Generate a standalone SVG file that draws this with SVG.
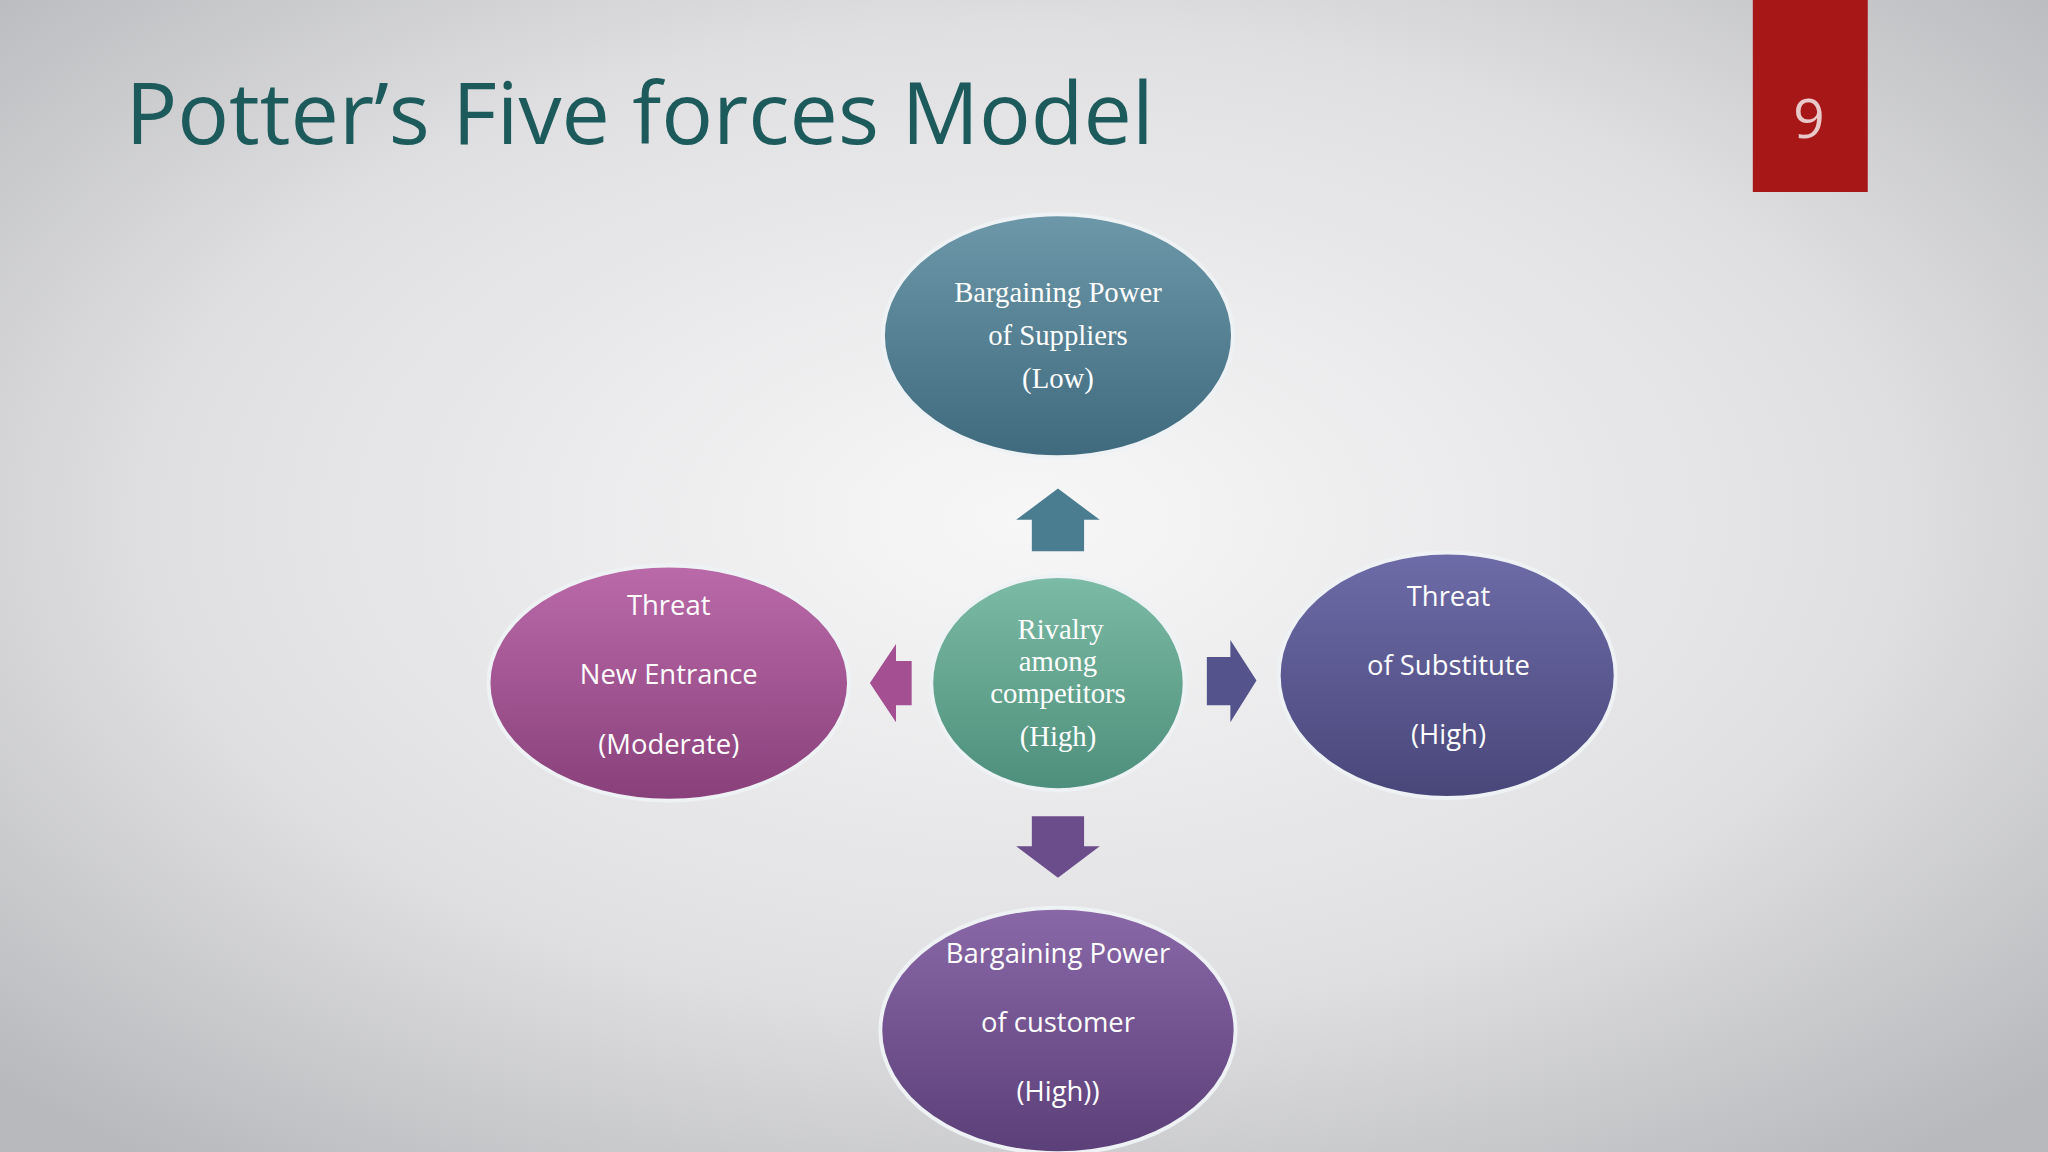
<svg xmlns="http://www.w3.org/2000/svg" width="2048" height="1152" viewBox="0 0 2048 1152">
<defs>
<radialGradient id="bg" cx="0.5" cy="0.45" r="0.7"><stop offset="0" stop-color="#f7f7f8"/><stop offset="0.6" stop-color="#e0e0e2"/><stop offset="1" stop-color="#b8b9bc"/></radialGradient>
<linearGradient id="gTop" x1="0" y1="0" x2="0" y2="1"><stop offset="0" stop-color="#6c98aa"/><stop offset="1" stop-color="#3f6a7d"/></linearGradient>
<linearGradient id="gCen" x1="0" y1="0" x2="0" y2="1"><stop offset="0" stop-color="#7cbba5"/><stop offset="1" stop-color="#4d8f7b"/></linearGradient>
<linearGradient id="gLeft" x1="0" y1="0" x2="0" y2="1"><stop offset="0" stop-color="#bb6aa9"/><stop offset="1" stop-color="#88407a"/></linearGradient>
<linearGradient id="gRight" x1="0" y1="0" x2="0" y2="1"><stop offset="0" stop-color="#6e6ca8"/><stop offset="1" stop-color="#484679"/></linearGradient>
<linearGradient id="gBot" x1="0" y1="0" x2="0" y2="1"><stop offset="0" stop-color="#8a68a8"/><stop offset="1" stop-color="#5b3f78"/></linearGradient>
<style>
.e{stroke:#eef2f4;stroke-width:3}
.serif{font-family:"Liberation Serif",serif;font-size:22px;fill:#fff;text-anchor:middle}
.sans{font-family:"Open Sans","Noto Sans",sans-serif;font-size:21px;fill:#fff;text-anchor:middle}
</style>
</defs>
<rect width="2048" height="1152" fill="url(#bg)"/>
<g transform="scale(1.30612)">
<text x="96" y="110" font-family="Open Sans, Noto Sans, sans-serif" font-size="66" fill="#1d5a5c">Potter’s Five forces Model</text>
<rect x="1342" y="0" width="88" height="147" fill="#a71717"/>
<text x="1385" y="106" font-family="Open Sans, Noto Sans, sans-serif" font-size="42" fill="#e8c8c8" text-anchor="middle">9</text>
<g id="connectors">
<path d="M810,374 L842,398 L830,398 L830,422 L790,422 L790,398 L778,398 Z" fill="#4b7d90"/>
<path d="M666,523 L686,493 L686,506 L698,506 L698,540 L686,540 L686,553 Z" fill="#a34f91"/>
<path d="M962,521 L942,490 L942,503 L924,503 L924,540 L942,540 L942,553 Z" fill="#55538c"/>
<path d="M810,672 L842,648 L830,648 L830,625 L790,625 L790,648 L778,648 Z" fill="#6c4d8c"/>
</g>
<g id="top"><ellipse class="e" cx="810" cy="257" rx="134" ry="93" fill="url(#gTop)"/>
<text class="serif" x="810" y="231">Bargaining Power</text><text class="serif" x="810" y="264">of Suppliers</text><text class="serif" x="810" y="297">(Low)</text></g>
<g id="center"><ellipse class="e" cx="810" cy="523" rx="97" ry="82" fill="url(#gCen)"/>
<text class="serif" x="812" y="489">Rivalry</text><text class="serif" x="810" y="514">among</text><text class="serif" x="810" y="538">competitors</text><text class="serif" x="810" y="571">(High)</text></g>
<g id="left"><ellipse class="e" cx="512" cy="523" rx="138" ry="90" fill="url(#gLeft)"/>
<text class="sans" x="512" y="471">Threat</text><text class="sans" x="512" y="524">New Entrance</text><text class="sans" x="512" y="577">(Moderate)</text></g>
<g id="right"><ellipse class="e" cx="1108" cy="517" rx="129" ry="94" fill="url(#gRight)"/>
<text class="sans" x="1109" y="464">Threat</text><text class="sans" x="1109" y="517">of Substitute</text><text class="sans" x="1109" y="570">(High)</text></g>
<g id="bottom"><ellipse class="e" cx="810" cy="789" rx="136" ry="94" fill="url(#gBot)"/>
<text class="sans" x="810" y="737">Bargaining Power</text><text class="sans" x="810" y="790">of customer</text><text class="sans" x="810" y="843">(High))</text></g>
</g>
</svg>
